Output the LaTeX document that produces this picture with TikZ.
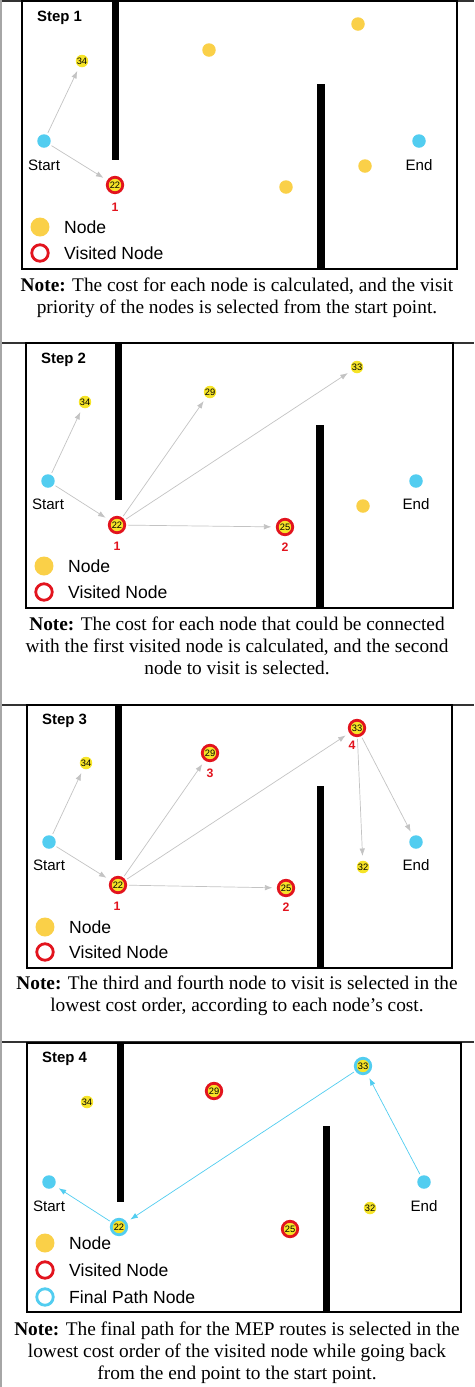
\documentclass[tikz,border=0pt]{standalone}
\usepackage{fontspec}
\setmainfont{Liberation Serif}
\setsansfont{Liberation Sans}
\usetikzlibrary{arrows.meta}

\definecolor{nodeyellow}{RGB}{250,208,72}
\definecolor{numyellow}{RGB}{246,228,40}
\definecolor{visitred}{RGB}{226,20,30}
\definecolor{pathcyan}{RGB}{82,205,240}
\definecolor{linkgray}{RGB}{195,195,195}

\begin{document}
\begin{tikzpicture}[
    x=0.02cm, y=-0.02cm,
    dot/.style={circle, fill=nodeyellow, inner sep=0pt, minimum size=0.27cm},
    num/.style={circle, fill=numyellow, inner sep=0pt, minimum size=0.25cm, font=\sffamily\fontsize{5.3}{5.3}\selectfont},
    visited/.style={num, draw=visitred, line width=1.6pt, minimum size=0.31cm},
    final/.style={visited, draw=pathcyan},
    endpt/.style={circle, fill=pathcyan, inner sep=0pt, minimum size=0.27cm},
    legdot/.style={circle, fill=nodeyellow, inner sep=0pt, minimum size=0.38cm},
    legring/.style={circle, draw=visitred, fill=white, line width=1.6pt, inner sep=0pt, minimum size=0.33cm},
    wall/.style={fill=black},
    panel/.style={draw=black, line width=0.8pt},
    tableline/.style={draw=black!80, line width=0.6pt},
    link/.style={draw=linkgray, line width=0.4pt, -{Latex[length=1.5mm, width=1.1mm]}, shorten <=1pt, shorten >=2.5pt},
    pathlink/.style={link, draw=pathcyan},
    steplabel/.style={anchor=west, font=\sffamily\bfseries\fontsize{8.5}{10}\selectfont},
    ptlabel/.style={font=\sffamily\fontsize{8.6}{10}\selectfont},
    order/.style={text=visitred, font=\sffamily\bfseries\fontsize{7}{8}\selectfont},
    legtext/.style={anchor=west, font=\sffamily\fontsize{10}{12}\selectfont},
    note/.style={align=center, font=\fontsize{11}{12.6}\selectfont}
]
    \useasboundingbox (0,0) rectangle (474,1387);

    % table lines
    \draw[tableline] (0,1) -- (474,1);
    \draw[tableline] (0,343) -- (474,343);
    \draw[tableline] (0,705) -- (474,705);
    \draw[tableline] (0,1042) -- (474,1042);
    \draw[draw=black!35, line width=1pt] (1,0) -- (1,1387);

    % Step 1
    \draw[panel] (22,1) rectangle (457,269);
    \fill[wall] (112,1) rectangle (119,160);
    \fill[wall] (317,84) rectangle (325,269);
    \node[steplabel] (s1title) at (31,18) {Step 1};
    \node[endpt] (s1start) at (44,141) {};
    \node[ptlabel] (s1startlbl) at (44,165) {Start};
    \node[endpt] (s1end) at (419,141) {};
    \node[ptlabel] (s1endlbl) at (419,165) {End};
    \node[num] (s1n34) at (82,61) {34};
    \node[dot] (s1n29) at (209,50) {};
    \node[dot] (s1n33) at (358,24) {};
    \node[dot] (s1n32) at (365,166) {};
    \node[dot] (s1n25) at (286,187) {};
    \node[visited] (s1n22) at (115,185) {22};
    \node[order] (s1ord1) at (115,207) {1};
    \draw[link] (s1start) -- (s1n34);
    \draw[link] (s1start) -- (s1n22);
    \node[legdot] (s1legnode) at (40,227) {};
    \node[legtext] (s1legnodetxt) at (58,227) {Node};
    \node[legring] (s1legvisit) at (40,253) {};
    \node[legtext] (s1legvisittxt) at (58,253) {Visited Node};
    \node[note] (s1note) at (237,298) {\textbf{Note:} The cost for each node is calculated, and the visit\\priority of the nodes is selected from the start point.};

    % Step 2
    \draw[panel] (26,343) rectangle (453,608);
    \fill[wall] (115,343) rectangle (122,500);
    \fill[wall] (316,425) rectangle (324,608);
    \node[steplabel] (s2title) at (35,360) {Step 2};
    \node[endpt] (s2start) at (48,481) {};
    \node[ptlabel] (s2startlbl) at (48,504) {Start};
    \node[endpt] (s2end) at (416,481) {};
    \node[ptlabel] (s2endlbl) at (416,504) {End};
    \node[num] (s2n34) at (85,402) {34};
    \node[num] (s2n29) at (210,392) {29};
    \node[num] (s2n33) at (357,367) {33};
    \node[dot] (s2n32) at (363,506) {};
    \node[visited] (s2n22) at (117,525) {22};
    \node[order] (s2ord1) at (117,546) {1};
    \node[visited] (s2n25) at (285,527) {25};
    \node[order] (s2ord2) at (285,547) {2};
    \draw[link] (s2start) -- (s2n34);
    \draw[link] (s2start) -- (s2n22);
    \draw[link] (s2n22) -- (s2n29);
    \draw[link] (s2n22) -- (s2n33);
    \draw[link] (s2n22) -- (s2n25);
    \node[legdot] (s2legnode) at (44,566) {};
    \node[legtext] (s2legnodetxt) at (62,566) {Node};
    \node[legring] (s2legvisit) at (44,592) {};
    \node[legtext] (s2legvisittxt) at (62,592) {Visited Node};
    \node[note] (s2note) at (237,646) {\textbf{Note:} The cost for each node that could be connected\\with the first visited node is calculated, and the second\\node to visit is selected.};

    % Step 3
    \draw[panel] (27,705) rectangle (452,968);
    \fill[wall] (115,705) rectangle (122,860);
    \fill[wall] (317,786) rectangle (324,968);
    \node[steplabel] (s3title) at (36,721) {Step 3};
    \node[endpt] (s3start) at (49,842) {};
    \node[ptlabel] (s3startlbl) at (49,865) {Start};
    \node[endpt] (s3end) at (416,842) {};
    \node[ptlabel] (s3endlbl) at (416,865) {End};
    \node[num] (s3n34) at (86,763) {34};
    \node[visited] (s3n29) at (210,753) {29};
    \node[order] (s3ord3) at (210,773) {3};
    \node[visited] (s3n33) at (357,728) {33};
    \node[order] (s3ord4) at (352,745) {4};
    \node[num] (s3n32) at (363,867) {32};
    \node[visited] (s3n22) at (118,885) {22};
    \node[order] (s3ord1) at (117,906) {1};
    \node[visited] (s3n25) at (286,888) {25};
    \node[order] (s3ord2) at (286,907) {2};
    \draw[link] (s3start) -- (s3n34);
    \draw[link] (s3start) -- (s3n22);
    \draw[link] (s3n22) -- (s3n29);
    \draw[link] (s3n22) -- (s3n33);
    \draw[link] (s3n22) -- (s3n25);
    \draw[link] (s3n33) -- (s3n32);
    \draw[link] (s3n33) -- (s3end);
    \node[legdot] (s3legnode) at (45,927) {};
    \node[legtext] (s3legnodetxt) at (63,927) {Node};
    \node[legring] (s3legvisit) at (45,952) {};
    \node[legtext] (s3legvisittxt) at (63,952) {Visited Node};
    \node[note] (s3note) at (237,996) {\textbf{Note:} The third and fourth node to visit is selected in the\\lowest cost order, according to each node's cost.};

    % Step 4
    \draw[panel] (27,1043) rectangle (461,1312);
    \fill[wall] (117,1043) rectangle (124,1202);
    \fill[wall] (323,1126) rectangle (330,1312);
    \node[steplabel] (s4title) at (36,1059) {Step 4};
    \node[endpt] (s4start) at (49,1182) {};
    \node[ptlabel] (s4startlbl) at (49,1206) {Start};
    \node[endpt] (s4end) at (424,1182) {};
    \node[ptlabel] (s4endlbl) at (424,1206) {End};
    \node[num] (s4n34) at (87,1102) {34};
    \node[visited] (s4n29) at (214,1091) {29};
    \node[final] (s4n33) at (363,1066) {33};
    \node[num] (s4n32) at (370,1208) {32};
    \node[final] (s4n22) at (119,1227) {22};
    \node[visited] (s4n25) at (290,1229) {25};
    \draw[pathlink] (s4end) -- (s4n33);
    \draw[pathlink] (s4n33) -- (s4n22);
    \draw[pathlink] (s4n22) -- (s4start);
    \node[legdot] (s4legnode) at (45,1243) {};
    \node[legtext] (s4legnodetxt) at (63,1243) {Node};
    \node[legring] (s4legvisit) at (45,1270) {};
    \node[legtext] (s4legvisittxt) at (63,1270) {Visited Node};
    \node[legring, draw=pathcyan] (s4legfinal) at (45,1297) {};
    \node[legtext] (s4legfinaltxt) at (63,1297) {Final Path Node};
    \node[note] (s4note) at (237,1353) {\textbf{Note:} The final path for the MEP routes is selected in the\\lowest cost order of the visited node while going back\\from the end point to the start point.};
\end{tikzpicture}
\end{document}
